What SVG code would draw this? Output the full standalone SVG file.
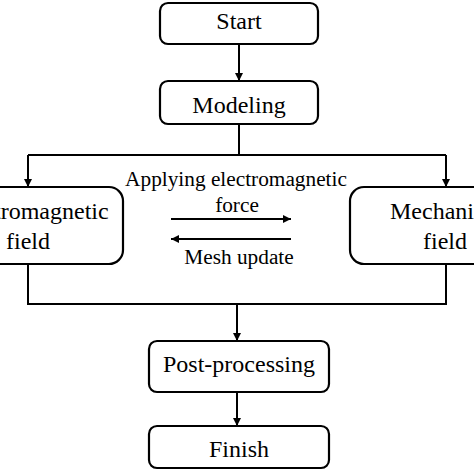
<svg xmlns="http://www.w3.org/2000/svg" width="474" height="474" viewBox="0 0 474 474">
<style>
.box{fill:#fff;stroke:#000;stroke-width:2.2}
.t{font-family:"Liberation Serif","Times New Roman",serif;font-size:24px;fill:#000;text-anchor:middle}
.s{font-family:"Liberation Serif","Times New Roman",serif;font-size:21.3px;fill:#000;text-anchor:middle}
.c{fill:none;stroke:#000;stroke-width:2}
</style>
<defs>
<marker id="ah" viewBox="0 0 10 10" refX="10" refY="5" markerWidth="4" markerHeight="4" orient="auto" markerUnits="strokeWidth">
<path d="M0,0 L10,5 L0,10 z" fill="#000"/>
</marker>
</defs>
<rect width="474" height="474" fill="#fff"/>
<g id="connectors">
<line class="c" x1="239" y1="44" x2="239" y2="81" marker-end="url(#ah)"/>
<polyline class="c" points="239,124 239,155"/>
<polyline class="c" points="28,155 446,155"/>
<line class="c" x1="28" y1="155" x2="28" y2="187" marker-end="url(#ah)"/>
<line class="c" x1="446" y1="155" x2="446" y2="187" marker-end="url(#ah)"/>
<polyline class="c" points="28,264 28,304 446,304 446,264"/>
<line class="c" x1="237" y1="304" x2="237" y2="341" marker-end="url(#ah)"/>
<line class="c" x1="237" y1="392" x2="237" y2="426" marker-end="url(#ah)"/>
<line class="c" x1="171" y1="219" x2="291" y2="219" marker-end="url(#ah)"/>
<line class="c" x1="291" y1="239" x2="171" y2="239" marker-end="url(#ah)"/>
</g>
<g id="start">
<rect class="box" x="160" y="3" width="158" height="41" rx="8"/>
<text class="t" x="239" y="28.5">Start</text>
</g>
<g id="modeling">
<rect class="box" x="160" y="81" width="158" height="43" rx="8"/>
<text class="t" x="239" y="112.5">Modeling</text>
</g>
<g id="electromagnetic">
<rect class="box" x="-70" y="187" width="193" height="77" rx="14"/>
<text class="t" x="30" y="218.5">Electromagnetic</text>
<text class="t" x="28" y="249">field</text>
</g>
<g id="mechanical">
<rect class="box" x="350" y="187" width="193" height="77" rx="14"/>
<text class="t" x="446" y="218.5">Mechanical</text>
<text class="t" x="445" y="249">field</text>
</g>
<g id="labels">
<text class="s" x="236" y="186">Applying electromagnetic</text>
<text class="s" x="237" y="212">force</text>
<text class="s" x="239" y="264">Mesh update</text>
</g>
<g id="postprocessing">
<rect class="box" x="149" y="341" width="180" height="51" rx="8"/>
<text class="t" x="239" y="372">Post-processing</text>
</g>
<g id="finish">
<rect class="box" x="149" y="426" width="180" height="42" rx="8"/>
<text class="t" x="239" y="457">Finish</text>
</g>
</svg>
